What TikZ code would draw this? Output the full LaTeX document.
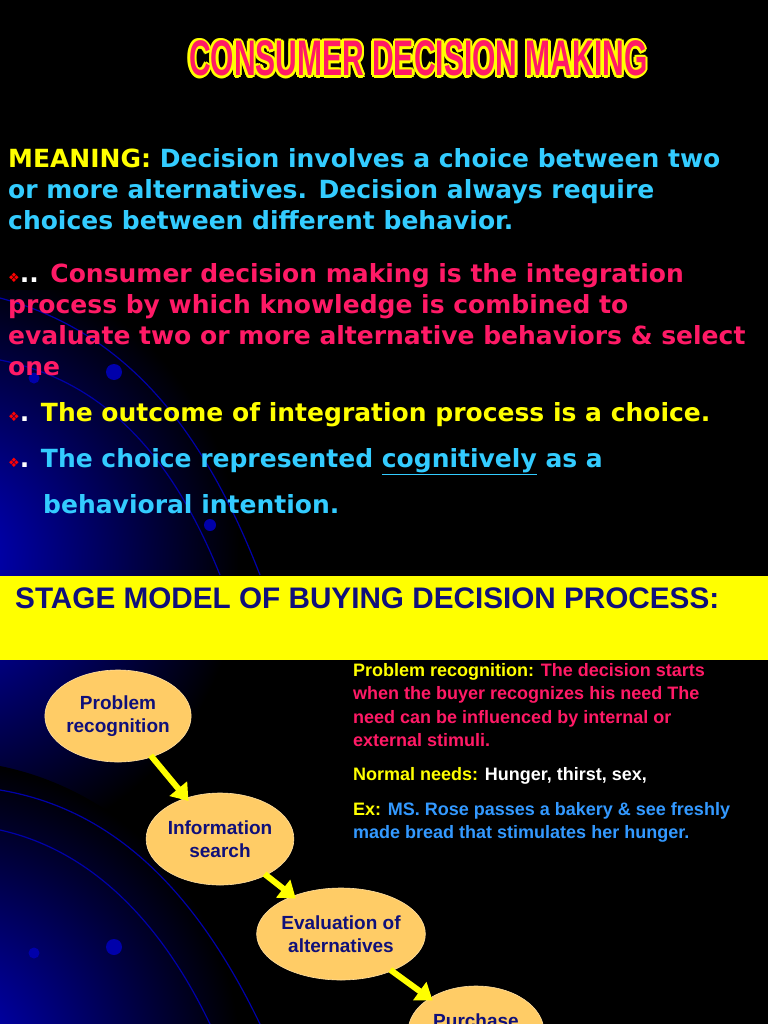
\documentclass[tikz,border=0pt]{standalone}
\usepackage{fontspec}
\setmainfont{DejaVu Sans}
\newfontfamily\arialb{Liberation Sans}[BoldFont=* Bold]
\usetikzlibrary{arrows.meta,shapes.geometric}
\definecolor{pk}{HTML}{FF1A66}
\definecolor{yl}{HTML}{FFFF00}
\definecolor{cy}{HTML}{33CCFF}
\definecolor{nv}{HTML}{10107A}
\definecolor{el}{HTML}{FFCC66}
\definecolor{bl}{HTML}{3399FF}
\definecolor{dk}{HTML}{0000AA}
\newcommand{\dia}{{\color{red}\fontsize{13}{13}\selectfont\symbol{"2756}}}
\newcommand{\ttl}[1]{\arialb\bfseries\fontsize{50}{50}\selectfont #1}
\begin{document}
\begin{tikzpicture}[x=1pt,y=-1pt,
  stage/.style={ellipse,fill=el,draw=el!60!white,line width=0.6pt,minimum width=136pt,minimum height=92pt,inner sep=0pt,align=center,text=nv,font=\arialb\bfseries\fontsize{19}{23.5}\selectfont},
  flow/.style={yl,line width=6pt,-{Triangle[length=16pt,width=22pt]},shorten <=-2pt,shorten >=-4pt},
  body/.style={anchor=north west,align=left,inner sep=0pt,font=\bfseries\fontsize{25}{31}\selectfont},
  side/.style={anchor=north west,align=left,inner sep=0pt,font=\arialb\bfseries\fontsize{18}{23.5}\selectfont},
  arcl/.style={draw=dk,line width=1.2pt},
  dot/.style={fill=dk,circle,inner sep=0pt,minimum size=#1}]
\fill[black] (0,0) rectangle (768,1024);
\useasboundingbox (0,0) rectangle (768,1024);
\begin{scope}
\clip (0,0) rectangle (768,1024);
\shade[inner color=blue!80!black,outer color=black] (-60,560) circle (300);
\shade[inner color=blue!80!black,outer color=black] (-60,1060) circle (300);
\end{scope}
\fill[black] (0,0) rectangle (768,290);
\draw[arcl] (0,298) .. controls (120,330) and (200,420) .. (260,575);
\draw[arcl] (0,360) .. controls (100,380) and (170,450) .. (220,575);
\draw[arcl] (0,790) .. controls (120,810) and (200,900) .. (260,1024);
\draw[arcl] (0,830) .. controls (90,850) and (160,920) .. (210,1024);
\node[dot=16pt] (d1) at (114,372) {};
\node[dot=11pt] (d2) at (34,378) {};
\node[dot=12pt] (d3) at (210,525) {};
\node[dot=16pt] (d4) at (114,947) {};
\node[dot=11pt] (d5) at (34,953) {};
\begin{scope}[rotate=-2]
\foreach \dx/\dy in {-2.5/0,2.5/0,0/-2.5,0/2.5,-1.8/-1.8,1.8/1.8,-1.8/1.8,1.8/-1.8}
  \node[text=yl,xscale=0.6,inner sep=0pt] at (420+\dx,44+\dy) {\ttl{CONSUMER DECISION MAKING}};
\node[text=pk,xscale=0.6,inner sep=0pt] (title) at (420,44) {\ttl{CONSUMER DECISION MAKING}};
\end{scope}
\node[body,text=cy] (meaning) at (8,148) {{\color{yl}MEANING:} Decision involves a choice between two\\or more alternatives. Decision always require\\choices between different behavior.};
\node[body,text=pk] (cdm) at (8,263) {\dia{\color{white}..} Consumer decision making is the integration\\process by which knowledge is combined to\\evaluate two or more alternative behaviors \& select\\one};
\node[body,text=yl] (outc) at (8,402) {\dia{\color{white}.} The outcome of integration process is a choice.};
\node[body,text=cy] (choice) at (8,448) {\dia{\color{white}.} The choice represented \underline{cognitively} as a};
\node[body,text=cy] (beh) at (43,494) {behavioral intention.};
\fill[yl] (0,576) rectangle (768,660);
\node[anchor=west,inner sep=0pt,text=nv,font=\arialb\bfseries\fontsize{29.7}{29.7}\selectfont] (stage) at (15,598) {STAGE MODEL OF BUYING DECISION PROCESS:};
\node[side,text=pk] (pr) at (353,663) {{\color{yl}Problem recognition:} The decision starts\\when the buyer recognizes his need The\\need can be influenced by internal or\\external stimuli.};
\node[side,text=white] (nn) at (353,767) {{\color{yl}Normal needs:} Hunger, thirst, sex,};
\node[side,text=bl] (ex) at (353,802) {{\color{yl}Ex:} MS. Rose passes a bakery \& see freshly\\made bread that stimulates her hunger.};
\node[stage] (s1) at (118,716) {Problem\\recognition};
\node[stage] (s2) at (220,839) {Information\\search};
\node[stage] (s3) at (341,934) {Evaluation of\\alternatives};
\node[stage] (s4) at (476,1032) {Purchase\\decision};
\draw[flow] (s1) -- (s2);
\draw[flow] (s2) -- (s3);
\draw[flow] (s3) -- (s4);
\end{tikzpicture}
\end{document}
